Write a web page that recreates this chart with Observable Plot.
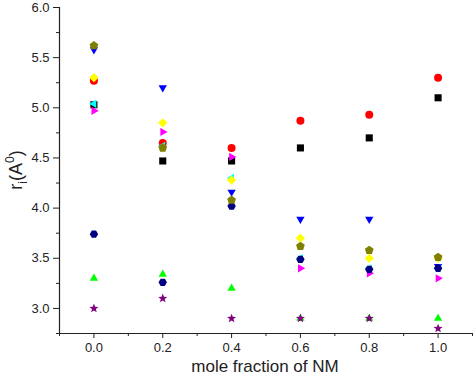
<!DOCTYPE html>
<html>
<head>
<meta charset="utf-8">
<script src="https://cdn.jsdelivr.net/npm/d3@7"></script>
<script src="https://cdn.jsdelivr.net/npm/@observablehq/plot@0.6"></script>
<style>
  html, body { margin: 0; padding: 0; background: #fff; }
  #chart svg { display: block; }
</style>
</head>
<body>
<div id="chart"></div>
<script>
// ---- data ----
const moleFraction = [0.0, 0.2, 0.4, 0.6, 0.8, 1.0];
const seriesBlackSquare   = [5.03, 4.47, 4.47, 4.60, 4.70, 5.10];
const seriesRedCircle     = [5.27, 4.65, 4.60, 4.87, 4.93, 5.30];
const seriesGreenUp       = [3.30, 3.34, 3.20, 2.90, 2.90, 2.90];
const seriesBlueDown      = [5.58, 5.20, 4.16, 3.89, 3.89, 3.42];
const seriesCyanLeft      = [5.04, 4.62, 4.30, 3.50, 3.40, 3.40];
const seriesMagentaRight  = [4.97, 4.76, 4.51, 3.40, 3.35, 3.30];
const seriesYellowDiamond = [5.30, 4.85, 4.28, 3.70, 3.50, 3.50];
const seriesNavyHexagon   = [3.74, 3.26, 4.02, 3.49, 3.39, 3.40];
const seriesPurpleStar    = [3.00, 3.10, 2.90, 2.90, 2.90, 2.80];
const seriesOlivePentagon = [5.62, 4.60, 4.08, 3.62, 3.58, 3.51];
const xMajorTicks = [0.0, 0.2, 0.4, 0.6, 0.8, 1.0];
const xMinorTicks = [-0.1, 0.1, 0.3, 0.5, 0.7, 0.9, 1.1];
const yMajorTicks = [3.0, 3.5, 4.0, 4.5, 5.0, 5.5, 6.0];
const yMinorTicks = [2.75, 3.25, 3.75, 4.25, 4.75, 5.25, 5.75];

// ---- symbols (styles) ----
function polygonSymbol(angles, factor) {
  return {
    draw(context, size) {
      const R = Math.sqrt(size / Math.PI) * factor;
      angles.forEach((a, i) => {
        const t = (a - 90) * Math.PI / 180;
        const px = R * Math.cos(t), py = R * Math.sin(t);
        if (i === 0) context.moveTo(px, py); else context.lineTo(px, py);
      });
      context.closePath();
    }
  };
}
function starSymbol(factor) {
  return {
    draw(context, size) {
      const R = Math.sqrt(size / Math.PI) * factor, r = R * 0.42;
      for (let i = 0; i < 10; i++) {
        const rr = i % 2 ? r : R;
        const t = (i * 36 - 90) * Math.PI / 180;
        const px = rr * Math.cos(t), py = rr * Math.sin(t);
        if (i === 0) context.moveTo(px, py); else context.lineTo(px, py);
      }
      context.closePath();
    }
  };
}
const triUp    = polygonSymbol([0, 120, 240], 1.2);
const triDown  = polygonSymbol([180, 300, 60], 1.2);
const triLeft  = polygonSymbol([270, 30, 150], 1.2);
const triRight = polygonSymbol([90, 210, 330], 1.2);
const pentagon = polygonSymbol([0, 72, 144, 216, 288], 1.15);
const diamond  = polygonSymbol([0, 90, 180, 270], 1.15);
const hexagon  = polygonSymbol([30, 90, 150, 210, 270, 330], 1.05);
const star     = starSymbol(1.2);

const series = [
  {values: seriesBlackSquare,   fill: "#000000", symbol: "square"},
  {values: seriesRedCircle,     fill: "#ff0000", symbol: "circle"},
  {values: seriesGreenUp,       fill: "#00ff00", symbol: triUp},
  {values: seriesBlueDown,      fill: "#0000ff", symbol: triDown},
  {values: seriesCyanLeft,      fill: "#00ffff", symbol: triLeft},
  {values: seriesMagentaRight,  fill: "#ff00ff", symbol: triRight},
  {values: seriesYellowDiamond, fill: "#ffff00", symbol: diamond},
  {values: seriesNavyHexagon,   fill: "#000080", symbol: hexagon},
  {values: seriesPurpleStar,    fill: "#800080", symbol: star},
  {values: seriesOlivePentagon, fill: "#808000", symbol: pentagon}
];

const dotMarks = series.map(s => Plot.dot(
  moleFraction.map((x, i) => ({x, y: s.values[i]})),
  {x: "x", y: "y", fill: s.fill, symbol: s.symbol, r: 4, stroke: "none"}
));

const chart = Plot.plot({
  width: 474,
  height: 379,
  marginLeft: 59,
  marginRight: 2,
  marginTop: 7,
  marginBottom: 46,
  style: {fontFamily: "'Liberation Sans', Arial, sans-serif", fontSize: "13px", color: "#222", background: "#fff"},
  x: {domain: [-0.1, 1.1]},
  y: {domain: [2.75, 6.0]},
  marks: [
    Plot.axisX({ticks: xMajorTicks, tickSize: 5, tickPadding: 4, tickFormat: d3.format(".1f"), label: null, stroke: "#222"}),
    Plot.axisX({ticks: xMinorTicks, tickSize: 3, tickFormat: () => "", label: null, stroke: "#222"}),
    Plot.axisY({ticks: yMajorTicks, tickSize: 6, tickPadding: 4, tickFormat: d3.format(".1f"), label: null, stroke: "#222"}),
    Plot.axisY({ticks: yMinorTicks, tickSize: 3, tickFormat: () => "", label: null, stroke: "#222"}),
    Plot.ruleY([2.75], {stroke: "#222", strokeWidth: 1.2}),
    Plot.ruleX([-0.1], {stroke: "#222", strokeWidth: 1.2}),
    ...dotMarks
  ]
});
document.getElementById("chart").appendChild(chart);

// axis titles
const svg = d3.select(chart);
svg.append("text")
  .attr("x", 265).attr("y", 372)
  .attr("text-anchor", "middle")
  .style("font-size", "17px").style("fill", "#222")
  .text("mole fraction of NM");

const yl = svg.append("text")
  .attr("transform", "translate(22,170) rotate(-90)")
  .attr("text-anchor", "middle")
  .style("font-size", "18px").style("fill", "#222");
yl.append("tspan").text("r");
yl.append("tspan").attr("dy", 5).style("font-size", "12px").text("i");
yl.append("tspan").attr("dy", -5).text("(A");
yl.append("tspan").attr("dy", -8).style("font-size", "12px").text("0");
yl.append("tspan").attr("dy", 8).text(")");
</script>
</body>
</html>
